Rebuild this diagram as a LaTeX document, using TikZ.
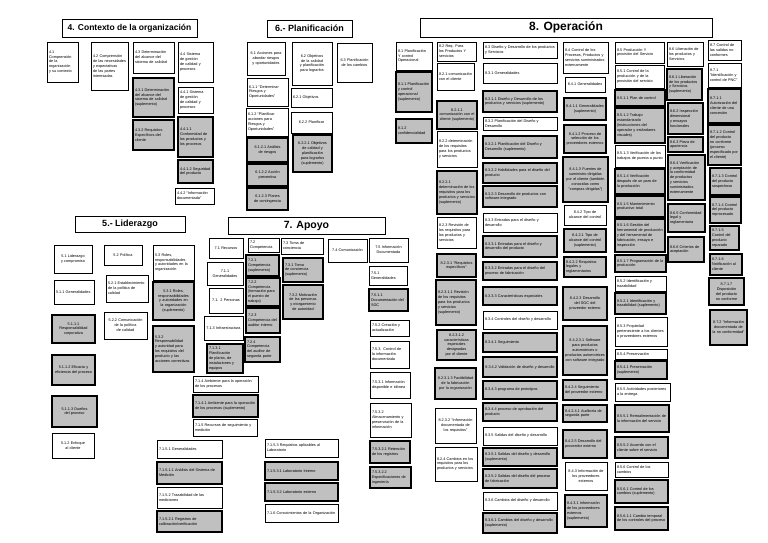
\documentclass[tikz,border=0pt]{standalone}
\usepackage{fontspec}
\setmainfont{Liberation Sans}
\definecolor{boxgray}{HTML}{C0C0C0}
\hyphenpenalty=10000
\exhyphenpenalty=10000
\newcommand{\bx}[7][]{%
 \pgfmathsetmacro{\bxw}{#5-#3}\pgfmathsetmacro{\bxh}{#6-#4}%
 \pgfmathsetmacro{\bxcx}{(#3+#5)/2}\pgfmathsetmacro{\bxcy}{(#4+#6)/2}%
 \pgfmathsetmacro{\bxtw}{#5-#3-4}%
 \node[bx,#1,minimum width=\bxw pt,minimum height=\bxh pt,text width=\bxtw pt] (#2) at (\bxcx,\bxcy) {#7};}
\newcommand{\hd}[7]{%
 \pgfmathsetmacro{\bxw}{#4-#2}\pgfmathsetmacro{\bxh}{#5-#3}%
 \pgfmathsetmacro{\bxcx}{(#2+#4)/2}\pgfmathsetmacro{\bxcy}{(#3+#5)/2}%
 \node[hdr,minimum width=\bxw pt,minimum height=\bxh pt,font=\fontsize{#6}{#6}\selectfont\bfseries] (#1) at (\bxcx,\bxcy) {#7};}
\tikzset{
 bx/.style={draw, line width=0.8pt, fill=white, inner sep=0pt, align=left, font=\fontsize{3.8}{4.9}\selectfont},
 gb/.style={fill=boxgray, line width=1.2pt},
 ct/.style={align=center},
 hdr/.style={draw, line width=0.8pt, fill=white, inner sep=0pt},
}
\begin{document}
\begin{tikzpicture}[x=1pt,y=-1pt]
\fill[white] (0,0) rectangle (768,543);
\useasboundingbox (0,0) rectangle (768,543);
% headers
\hd{h4}{62}{19}{197}{37}{8.5}{4. Contexto de la organización}
\hd{h5}{75}{216}{185}{232}{9}{5.- Liderazgo}
\hd{h6}{267}{20}{352}{37}{9}{6.- Planificación}
\hd{h7}{228}{217}{385}{234}{10.5}{7. Apoyo}
\hd{h8}{420}{18}{712}{37}{12}{8. Operación}
% section 4
\bx{c41}{47}{42}{78}{82}{4.1 Comprensión de la organización y su contexto}
\bx{c42}{91}{42}{128}{90}{4.2 Comprensión de las necesidades y expectativas de las partes interesadas}
\bx{c43}{133}{42}{174}{73}{4.3 Determinación del alcance del sistema de calidad}
\bx[gb]{c431}{133}{78}{174}{117}{4.3.1 Determinación del alcance del sistema de calidad (suplemento)}
\bx[gb]{c432}{133}{120}{174}{150}{4.3.2 Requisitos Específicos del cliente}
\bx{c44}{178}{42}{213}{82}{4.4 Sistema de gestión de calidad y procesos}
\bx{c441}{178}{87}{213}{113}{4.4.1 Sistema de gestión de calidad y procesos}
\bx[gb]{c4411}{178}{117}{213}{157}{4.4.1.1 Conformidad de los productos y los procesos}
\bx[gb]{c4412}{178}{160}{213}{183}{4.4.1.2 Seguridad del producto}
\bx{c442}{175}{188}{214}{204}{4.4.2 “Información documentada”}
% section 6
\bx[ct]{c61}{247}{42}{285}{75}{6.1 Acciones para abordar riesgos y oportunidades}
\bx[ct]{c62}{292}{42}{332}{85}{6.2 Objetivos de la calidad y planificación para lograrlos}
\bx[ct]{c63}{337}{43}{372}{82}{6.3 Planificación de los cambios}
\bx{c611}{247}{78}{288}{106}{6.1.1 “Determinar Riesgos y Oportunidades”}
\bx{c612}{246}{108}{288}{136}{6.1.2 “Planificar acciones para Riesgos y Oportunidades”}
\bx[gb,ct]{c6121}{247}{138}{288}{162}{6.1.2.1 Análisis de riesgos}
\bx[gb,ct]{c6122}{247}{164}{288}{186}{6.1.2.2 Acción preventiva}
\bx[gb,ct]{c6123}{247}{188}{288}{210}{6.1.2.3 Planes de contingencia}
\bx{c621}{291}{88}{332}{107}{6.2.1 Objetivos}
\bx[ct]{c622}{291}{112}{332}{133}{6.2.2 Planificar}
\bx[gb,ct]{c6221}{293}{135}{332}{172}{6.2.2.1 Objetivos de calidad y planificación para lograrlos (suplemento)}
% section 5
\bx[ct]{c51}{54}{245}{92}{273}{5.1 Liderazgo y compromiso}
\bx{c511}{54}{280}{94}{304}{5.1.1 Generalidades}
\bx[gb,ct]{c5111}{52}{315}{95}{343}{5.1.1.1 Responsabilidad corporativa}
\bx[gb,ct]{c5112}{52}{355}{95}{385}{5.1.1.2 Eficacia y eficiencia del proceso}
\bx[gb,ct]{c5113}{52}{396}{97}{427}{5.1.1.3 Dueños del proceso}
\bx[ct]{c512}{52}{433}{94}{458}{5.1.2 Enfoque al cliente}
\bx[ct]{c52}{104}{245}{142}{265}{5.2 Política}
\bx{c521}{106}{275}{148}{302}{5.2.1 Establecimiento de la política de calidad}
\bx[ct]{c522}{104}{312}{147}{339}{5.2.2 Comunicación de la política de calidad}
\bx{c53}{153}{245}{194}{280}{5.3 Roles, responsabilidades y autoridades en la organización}
\bx[gb,ct]{c531}{153}{282}{194}{320}{5.3.1 Roles, responsabilidades y autoridades en la organización (suplemento)}
\bx[gb]{c532}{153}{326}{194}{372}{5.3.2 Responsabilidad y autoridad para los requisitos del producto y las acciones correctivas}
% section 7
\bx[ct]{c71}{209}{238}{243}{258}{7.1 Recursos}
\bx[ct]{c711}{207}{262}{243}{285}{7.1.1 Generalidades}
\bx[ct]{c712}{209}{288}{243}{313}{7.1. 2 Personas}
\bx[ct]{c713}{204}{316}{243}{340}{7.1.3 Infraestructura}
\bx[gb]{c7131}{207}{344}{243}{373}{7.1.3.1 Planificación de planta, de instalaciones y equipos}
\bx{c714}{193}{376}{258}{392}{7.1.4 Ambiente para la operación de los procesos}
\bx[gb]{c7141}{193}{395}{258}{417}{7.1.4.1 Ambiente para la operación de los procesos (suplemento)}
\bx{c715}{193}{419}{257}{436}{7.1.5 Recursos de seguimiento y medición}
\bx{c7151}{157}{440}{222}{458}{7.1.5.1 Generalidades}
\bx[gb]{c71511}{157}{462}{222}{484}{7.1.5.1.1 Análisis del Sistema de Medición}
\bx{c7152}{157}{487}{222}{508}{7.1.5.2 Trazabilidad de las mediciones}
\bx[gb]{c71521}{157}{511}{222}{532}{7.1.5.2.1 Registros de calibración/verificación}
\bx{c7153}{265}{439}{338}{457}{7.1.5.3 Requisitos aplicables al Laboratorio}
\bx[gb]{c71531}{265}{462}{338}{480}{7.1.5.3.1 Laboratorio Interno}
\bx[gb]{c71532}{265}{483}{338}{501}{7.1.5.3.2 Laboratorio externo}
\bx{c716}{265}{504}{338}{522}{7.1.6 Conocimientos de la Organización}
\bx{c72}{248}{238}{279}{252}{7.2 Competencia}
\bx[gb]{c721}{246}{255}{279}{276}{7.2.1 Competencia (suplemento)}
\bx[gb]{c722}{246}{278}{280}{306}{7.2.2 Competencia (formación para el puesto de trabajo)}
\bx[gb]{c723}{246}{308}{280}{333}{7.2.3 Competencia del auditor interno}
\bx[gb]{c724}{245}{337}{280}{362}{7.2.4 Competencia del auditor de segunda parte}
\bx{c73}{281}{238}{323}{254}{7.3 Toma de conciencia}
\bx[gb]{c731}{283}{258}{323}{282}{7.3.1 Toma de conciencia (suplemento)}
\bx[gb,ct]{c732}{283}{285}{323}{319}{7.3.2 Motivación de las personas y otorgamiento de autoridad}
\bx[ct]{c74}{328}{239}{367}{262}{7.4 Comunicación}
\bx[ct]{c75}{369}{238}{408}{262}{7.5 Información Documentada}
\bx{c751}{369}{266}{407}{285}{7.5.1 Generalidades}
\bx[gb]{c7511}{369}{289}{408}{311}{7.5.1.1 Documentación del SGC}
\bx{c752}{370}{320}{409}{336}{7.5.2 Creación y actualización}
\bx{c753}{370}{341}{409}{368}{7.5.3. Control de la información documentada}
\bx{c7531}{370}{372}{410}{398}{7.5.3.1 Información disponible e idónea}
\bx{c7532}{370}{403}{411}{437}{7.5.3.2 Almacenamiento y preservación de la información}
\bx[gb]{c75321}{370}{441}{410}{463}{7.5.3.2.1 Retención de los registros}
\bx[gb]{c75322}{370}{467}{411}{488}{7.5.3.2.2 Especificaciones de ingeniería}
% section 8 : 8.1 / 8.2
\bx{c81}{396}{42}{432}{70}{8.1 Planificación Y control Operacional}
\bx[gb]{c811}{396}{72}{432}{112}{8.1.1 Planificación y control operacional (suplemento)}
\bx[gb]{c812}{396}{119}{432}{143}{8.1.2 confidencialidad}
\bx{c82}{437}{42}{476}{61}{8.2 Req. Para los Productos Y servicios}
\bx{c821}{437}{63}{474}{90}{8.2.1 comunicación con el cliente}
\bx[gb,ct]{c8211}{437}{101}{477}{129}{8.2.1.1 comunicación con el cliente (suplemento)}
\bx{c822}{437}{131}{477}{167}{8.2.2 determinación de los requisitos para los productos y servicios}
\bx[gb]{c8221}{437}{171}{477}{214}{8.2.2.1 determinación de los requisitos para los productos y servicios (suplemento)}
\bx{c823}{437}{217}{476}{248}{8.2.3 Revisión de los requisitos para los productos y servicios}
\bx[gb,ct]{c8231}{437}{254}{476}{277}{8.2.3.1 “Requisitos específicos”}
\bx[gb]{c82311}{436}{280}{476}{325}{8.2.3.1.1 Revisión de los requisitos para los productos y servicios (suplemento)}
\bx[gb,ct]{c82312}{437}{330}{476}{360}{8.2.3.1.2 características especiales designadas por el cliente}
\bx[gb,ct]{c82313}{435}{368}{476}{399}{8.2.3.1.3 Factibilidad de la fabricación por la organización}
\bx[ct]{c8232}{435}{408}{476}{443}{8.2.3.2 “Información documentada de los requisitos”}
\bx{c824}{435}{447}{477}{481}{8.2.4 Cambios en los requisitos para los productos y servicios}
% 8.3
\bx{c83}{483}{42}{557}{58}{8.3 Diseño y Desarrollo de los productos y Servicios}
\bx{c831}{483}{63}{557}{83}{8.3.1 Generalidades}
\bx[gb]{c8311}{483}{91}{557}{112}{8.3.1.1 Diseño y Desarrollo de los productos y servicios (suplemento)}
\bx{c832}{483}{117}{557}{130}{8.3.2 Planificación del Diseño y Desarrollo}
\bx[gb]{c8321}{483}{136}{557}{158}{8.3.2.1 Planificación del Diseño y Desarrollo (suplemento)}
\bx[gb]{c8322}{483}{163}{557}{183}{8.3.2.2 Habilidades para el diseño del producto}
\bx[gb]{c8323}{483}{186}{557}{207}{8.3.2.3 Desarrollo de productos con software integrado}
\bx{c833}{483}{213}{557}{232}{8.3.3 Entradas para el diseño y desarrollo}
\bx[gb]{c8331}{483}{236}{557}{257}{8.3.3.1 Entradas para el diseño y desarrollo del producto}
\bx[gb]{c8332}{483}{262}{557}{280}{8.3.3.2 Entradas para el diseño del proceso de fabricación}
\bx[gb]{c8333}{483}{287}{557}{305}{8.3.3.3 Características especiales}
\bx{c834}{483}{311}{557}{329}{8.3.4 Controles del diseño y desarrollo}
\bx[gb]{c8341}{483}{333}{557}{352}{8.3.4.1 Seguimiento}
\bx[gb,ct]{c8342}{483}{357}{557}{377}{8.3.4.2 Validación de diseño y desarrollo}
\bx[gb]{c8343}{483}{381}{557}{399}{8.3.4.3 programa de prototipos}
\bx[gb]{c8344}{483}{403}{557}{421}{8.3.4.4 proceso de aprobación del producto}
\bx{c835}{483}{427}{557}{445}{8.3.5 Salidas del diseño y desarrollo}
\bx[gb]{c8351}{483}{448}{557}{466}{8.3.5.1 Salidas del diseño y desarrollo (suplemento)}
\bx[gb]{c8352}{483}{469}{557}{488}{8.3.5.2 Salidas del diseño del proceso de fabricación}
\bx{c836}{483}{492}{557}{510}{8.3.6 Cambios del diseño y desarrollo}
\bx[gb]{c8361}{483}{513}{557}{533}{8.3.6.1 Cambios del diseño y desarrollo (suplemento)}
% 8.4
\bx{c84}{563}{42}{608}{73}{8.4 Control de los Procesos, Productos y servicios suministrados externamente}
\bx[ct]{c841}{565}{77}{605}{92}{8.4.1 Generalidades}
\bx[gb,ct]{c8411}{564}{98}{606}{120}{8.4.1.1 Generalidades (suplemento)}
\bx[gb,ct]{c8412}{564}{125}{606}{153}{8.4.1.2 Proceso de selección de los proveedores externos}
\bx[gb,ct]{c8413}{563}{157}{608}{202}{8.4.1.3 Fuentes de suministro dirigidas por el cliente (también conocidas como “compras dirigidas”)}
\bx[ct]{c842}{564}{205}{606}{225}{8.4.2 Tipo de alcance del control}
\bx[gb,ct]{c8421}{564}{229}{606}{252}{8.4.2.1 Tipo de alcance del control (suplemento)}
\bx[gb]{c8422}{564}{257}{606}{277}{8.4.2.2 Requisitos legales y reglamentarios}
\bx[gb,ct]{c8423}{563}{287}{607}{320}{8.4.2.3 Desarrollo del SGC del proveedor externo}
\bx[gb,ct]{c84231}{563}{326}{607}{375}{8.4.2.3.1 Software para productos automotrices o productos automotrices con software integrado}
\bx[gb]{c8424}{563}{380}{607}{400}{8.4.2.4 Seguimiento del proveedor externo}
\bx[gb]{c84241}{563}{405}{607}{422}{8.4.2.4.1 Auditoría de segunda parte}
\bx[gb]{c8425}{563}{430}{607}{458}{8.4.2.5 Desarrollo del proveedor externo}
\bx[ct]{c843}{565}{462}{607}{490}{8.4.3 Información de los proveedores externos}
\bx[gb]{c8431}{565}{495}{607}{527}{8.4.3.1 Información de los proveedores externos (suplemento)}
% 8.5
\bx{c85}{615}{42}{664}{63}{8.5 Producción Y provisión del Servicio}
\bx{c851}{615}{65}{664}{88}{8.5.1 Control de la producción y de la provisión del servicio}
\bx[gb]{c8511}{615}{90}{665}{106}{8.5.1.1 Plan de control}
\bx[gb]{c8512}{615}{108}{665}{143}{8.5.1.2 Trabajo estandarizado (instrucciones del operador y estándares visuales)}
\bx{c8513}{615}{145}{665}{167}{8.5.1.3 Verificación de los trabajos de puesta a punto}
\bx[gb]{c8514}{615}{169}{665}{194}{8.5.1.4 Verificación después de un paro de la producción}
\bx[gb]{c8515}{615}{196}{665}{217}{8.5.1.5 Mantenimiento productivo total}
\bx[gb]{c8516}{615}{219}{665}{252}{8.5.1.6 Gestión del herramental de producción y del herramental de fabricación, ensayo e inspección}
\bx[gb]{c8517}{615}{255}{666}{272}{8.5.1.7 Programación de la producción}
\bx{c852}{615}{276}{666}{291}{8.5.2 Identificación y trazabilidad}
\bx[gb]{c8521}{615}{293}{666}{314}{8.5.2.1 Identificación y trazabilidad (suplemento)}
\bx{c853}{615}{317}{667}{346}{8.5.3 Propiedad perteneciente a los clientes o proveedores externos}
\bx{c854}{615}{349}{667}{359}{8.5.4 Preservación}
\bx[gb]{c8541}{615}{361}{667}{379}{8.5.4.1 Preservación (suplemento)}
\bx{c855}{615}{383}{670}{401}{8.5.5 Actividades posteriores a la entrega}
\bx[gb]{c8551}{615}{405}{669}{432}{8.5.5.1 Retroalimentación de la información del servicio}
\bx[gb]{c8552}{615}{437}{668}{458}{8.5.5.2 Acuerdo con el cliente sobre el servicio}
\bx{c856}{615}{462}{668}{477}{8.5.6 Control de los cambios}
\bx[gb]{c8561}{615}{480}{668}{503}{8.5.6.1 Control de los cambios (suplemento)}
\bx[gb]{c85611}{615}{507}{668}{530}{8.5.6.1.1 Cambio temporal de los controles del proceso}
% 8.6
\bx{c86}{667}{42}{703}{66}{8.6 Liberación de los productos y Servicios}
\bx[gb]{c861}{667}{69}{702}{100}{8.6.1 Liberación de los productos y Servicios (suplemento)}
\bx[gb]{c862}{668}{103}{703}{134}{8.6.2 Inspección dimensional y ensayos funcionales}
\bx[gb]{c863}{668}{137}{703}{152}{8.6.3 Pieza de apariencia}
\bx[gb]{c864}{668}{155}{705}{200}{8.6.4 Verificación y aceptación de la conformidad de productos y servicios suministrados externamente}
\bx[gb]{c865}{668}{204}{705}{232}{8.6.5 Conformidad legal y reglamentaria}
\bx[gb]{c866}{668}{237}{704}{262}{8.6.6 Criterios de aceptación}
% 8.7
\bx{c87}{708}{40}{741}{60}{8.7 Control de las salidas no conformes}
\bx{c871}{708}{63}{741}{87}{8.7.1 “Identificación y control de PNC”}
\bx[gb]{c8711}{708}{89}{741}{123}{8.7.1.1 Autorización del cliente de una concesión}
\bx[gb]{c8712}{708}{125}{741}{165}{8.7.1.2 Control del producto no conforme (proceso especificado por el cliente)}
\bx[gb]{c8713}{710}{168}{741}{195}{8.7.1.3 Control del producto sospechoso}
\bx[gb]{c8714}{710}{197}{741}{223}{8.7.1.4 Control del producto reprocesado}
\bx[gb]{c8715}{710}{226}{739}{250}{8.7.1.5 Control del producto reparado}
\bx[gb]{c8716}{710}{254}{742}{275}{8.7.1.6 Notificación al cliente}
\bx[gb,ct]{c8717}{709}{278}{744}{305}{8.7.1.7 Disposición del producto no conforme}
\bx[gb,ct]{c872}{710}{310}{747}{345}{8.7.2 “Información documentada de la no conformidad”}
\end{tikzpicture}
\end{document}
